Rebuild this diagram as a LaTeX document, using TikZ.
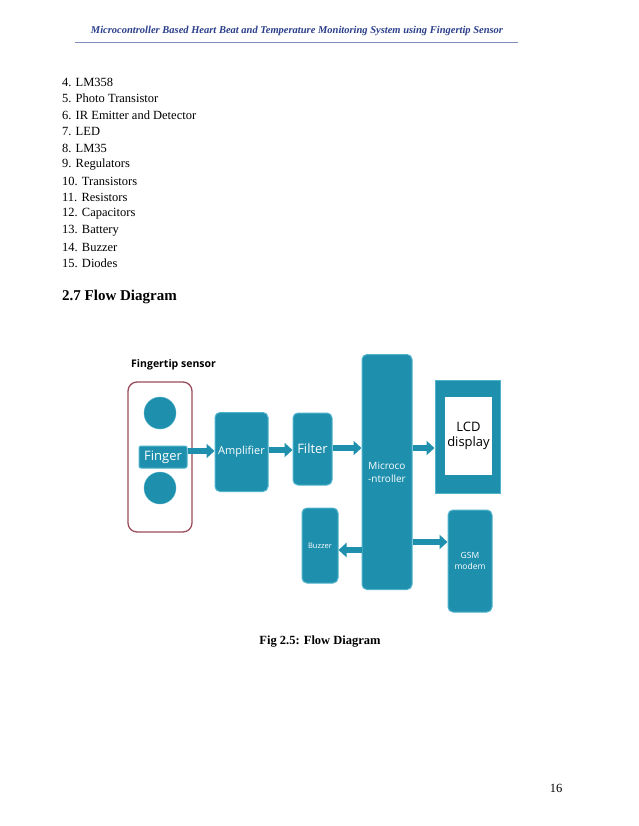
\documentclass[tikz,border=0pt]{standalone}
\usepackage{fontspec}
\setmainfont{Liberation Serif}
\newfontfamily\diagfont{Open Sans}
\usetikzlibrary{arrows.meta}
\definecolor{teal1}{HTML}{1E8FAD}
\definecolor{tealedge}{HTML}{4FB3CC}
\definecolor{hdr}{HTML}{2B3F8C}
\definecolor{sensred}{HTML}{9A4A5A}
\tikzset{
  blk/.style={draw=tealedge, line width=1pt, fill=teal1, rounded corners=5pt, text=white, font=\diagfont\fontsize{11}{12}\selectfont, align=center, inner sep=0pt},
  barrow/.style={draw=teal1, line width=6pt, -{Triangle[width=14pt,length=8pt]}},
  item/.style={anchor=west, font=\fontsize{12.5}{14}\selectfont, inner sep=0pt}
}
\begin{document}
\begin{tikzpicture}[x=1pt,y=-1pt]
\useasboundingbox (0,0) rectangle (638,826);
\fill[white] (0,0) rectangle (638,826);
% header
\node[font=\fontsize{10.5}{12}\selectfont\itshape\bfseries, text=hdr] (hd) at (297,31) {Microcontroller Based Heart Beat and Temperature Monitoring System using Fingertip Sensor};
\draw[hdr!60, line width=0.8pt] (75,42) -- (518,42);
% list
\foreach \t [count=\i from 0] in {4. LM358,5. Photo Transistor,6. IR Emitter and Detector,7. LED,8. LM35,9. Regulators,10. Transistors,11. Resistors,12. Capacitors,13. Battery,14. Buzzer,15. Diodes}
  \node[item] (it\i) at (62,{82+16.5*\i}) {\t};
\node[anchor=west, font=\fontsize{15}{17}\selectfont\bfseries, inner sep=0pt] (h27) at (62,297) {2.7 Flow Diagram};
% diagram
\node[anchor=west, font=\diagfont\fontsize{10.5}{12}\selectfont\bfseries, inner sep=0pt] (ftl) at (131,365) {Fingertip sensor};
\node[draw=sensred, line width=1.3pt, rounded corners=9pt, minimum width=64pt, minimum height=150pt] (sens) at (160,457) {};
\node[circle, fill=teal1, draw=tealedge, minimum size=32pt, inner sep=0pt] (c1) at (160,413) {};
\node[circle, fill=teal1, draw=tealedge, minimum size=32pt, inner sep=0pt] (c2) at (160,488) {};
\node[blk, rounded corners=2pt, minimum width=48pt, minimum height=22pt, font=\diagfont\fontsize{13}{14}\selectfont] (fing) at (163,457) {Finger};
\node[blk, minimum width=53pt, minimum height=79pt] (amp) at (241.5,452) {Amplifier};
\node[blk, minimum width=39pt, minimum height=72pt, font=\diagfont\fontsize{13}{14}\selectfont] (filt) at (312.5,449) {Filter};
\node[blk, minimum width=50pt, minimum height=235pt, font=\diagfont\fontsize{10}{13}\selectfont] (mc) at (387,472) {Microco\\-ntroller};
\node[draw=tealedge, fill=teal1, line width=1pt, minimum width=65pt, minimum height=113pt] (lcdo) at (467.5,436.5) {};
\node[fill=white, minimum width=47pt, minimum height=78pt, font=\diagfont\fontsize{13}{15}\selectfont, align=center, inner sep=0pt] (lcd) at (468.5,436) {LCD\\display};
\node[blk, minimum width=36pt, minimum height=75pt, font=\diagfont\fontsize{7.5}{9}\selectfont] (buz) at (320,545.5) {Buzzer};
\node[blk, minimum width=44pt, minimum height=102pt, font=\diagfont\fontsize{8.5}{11}\selectfont] (gsm) at (470,561) {GSM\\modem};
% arrows
\draw[barrow] (fing.east |- 0,451) -- (amp.west |- 0,451);
\draw[barrow] (amp.east |- 0,450) -- (filt.west |- 0,450);
\draw[barrow] (filt.east |- 0,448) -- (mc.west |- 0,448);
\draw[barrow] (mc.east |- 0,448) -- (lcdo.west |- 0,448);
\draw[barrow] (mc.west |- 0,550) -- (buz.east |- 0,550);
\draw[barrow] (mc.east |- 0,542) -- (gsm.west |- 0,542);
% caption
\node[font=\fontsize{12.5}{14}\selectfont\bfseries] (cap) at (320,642) {Fig 2.5: Flow Diagram};
\node[font=\fontsize{12.5}{14}\selectfont] (pg) at (556,788) {16};
\end{tikzpicture}
\end{document}
